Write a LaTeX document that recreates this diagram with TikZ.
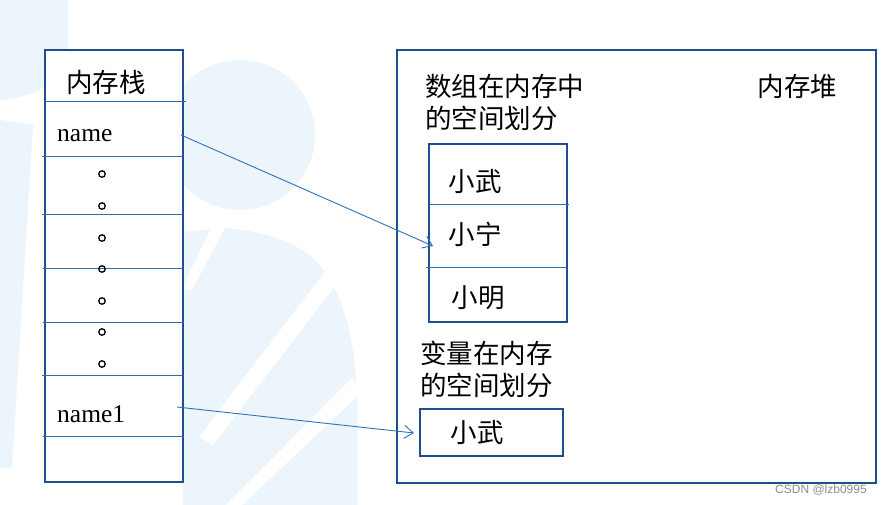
\documentclass[tikz,border=0pt]{standalone}
\usepackage{fontspec}
\setmainfont{Liberation Serif}
\newfontfamily\cjk{Noto Sans CJK SC}
\newfontfamily\wmfont{Liberation Sans}
\usetikzlibrary{arrows.meta}
\definecolor{frame}{HTML}{1F4E8F}
\definecolor{rule}{HTML}{2E6DB4}
\definecolor{arrowc}{HTML}{2E72BC}
\definecolor{wmark}{HTML}{ECF4FC}
\begin{document}
\begin{tikzpicture}[x=1pt,y=-1pt,
  boxframe/.style={draw=frame,line width=2pt,fill=white,inner sep=0pt},
  cellrule/.style={draw=rule,line width=1pt},
  cjktext/.style={font=\cjk\fontsize{26.5}{32}\selectfont,inner sep=0pt,text=black},
  seriftext/.style={font=\fontsize{25.5}{30}\selectfont,inner sep=0pt,text=black},
  dotmark/.style={circle,draw=black,line width=1.3pt,minimum size=6.5pt,inner sep=0pt},
  arrowline/.style={draw=arrowc,line width=0.9pt,-{Straight Barb[length=9pt,width=13pt,line width=0.9pt]}}
]
\useasboundingbox (0,0) rectangle (884,505);
\fill[white] (0,0) rectangle (884,505);
% faint background watermark
\fill[wmark] (0,0) -- (68,0) -- (68,55) .. controls (60,85) and (30,98) .. (0,100) -- cycle;
\fill[wmark] (0,120) -- (33,125) -- (12,468) -- (0,468) -- cycle;
\fill[wmark] (240,135) circle[radius=75pt];
\fill[wmark] (183,505) -- (183,232) -- (227,228) .. controls (270,232) and (300,245) .. (318,263)
  .. controls (340,290) and (355,330) .. (357,400) -- (357,505) -- cycle;
\fill[white] (212,226) -- (226,226) -- (192,290) -- (181,290) -- cycle;
\fill[white] (326,270) -- (340,280) -- (213,445) -- (199,437) -- cycle;
\fill[white] (352,378) -- (362,392) -- (240,507) -- (224,507) -- cycle;

% stack box
\node[boxframe,minimum width=138pt,minimum height=432pt] (stack) at (114,266) {};
\draw[cellrule] (45,102) -- (186,102);
\draw[cellrule] (42,157) -- (183,157);
\draw[cellrule] (42,215) -- (183,215);
\draw[cellrule] (43,269) -- (183,269);
\draw[cellrule] (43,322) -- (184,322);
\draw[cellrule] (42,375) -- (183,375);
\draw[cellrule] (43,436) -- (184,436);
\node[cjktext] (stacklabel) at (106,82) {内存栈};
\node[seriftext,anchor=west] (name) at (57,136) {name};
\node[seriftext,anchor=west] (nameone) at (57,414) {name1};
\foreach \y [count=\i] in {174,206,238,269,301,332,364}
  \node[dotmark] (dot\i) at (102,\y) {};

% heap box
\node[boxframe,minimum width=479pt,minimum height=433pt] (heap) at (636.5,266.5) {};
\node[cjktext,anchor=west] (arrlabA) at (425,86) {数组在内存中};
\node[cjktext,anchor=west] (arrlabB) at (425,118) {的空间划分};
\node[cjktext] (heaplabel) at (797.5,86) {内存堆};

% array box
\node[boxframe,minimum width=138pt,minimum height=178pt] (array) at (498,233) {};
\draw[cellrule] (429,205) -- (569,205);
\draw[cellrule] (426,268) -- (567,268);
\node[cjktext] (cellA) at (475,182) {小武};
\node[cjktext] (cellB) at (475,234) {小宁};
\node[cjktext] (cellC) at (478,298) {小明};

% variable
\node[cjktext,anchor=west] (varlabA) at (420,353) {变量在内存};
\node[cjktext,anchor=west] (varlabB) at (420,385) {的空间划分};
\node[boxframe,minimum width=143pt,minimum height=47pt] (var) at (491.5,432.5) {};
\node[cjktext] (varcell) at (477,433) {小武};

% connectors
\coordinate (aonestart) at (181,135);
\coordinate (aoneend) at (433,246);
\coordinate (atwostart) at (177,407);
\coordinate (atwoend) at (414,433);
\draw[arrowline] (aonestart) -- (aoneend);
\draw[arrowline] (atwostart) -- (atwoend);

\node[font=\wmfont\fontsize{12}{14}\selectfont,text=black!45,inner sep=0pt] (csdn) at (821,490) {CSDN @lzb0995};
\end{tikzpicture}
\end{document}
